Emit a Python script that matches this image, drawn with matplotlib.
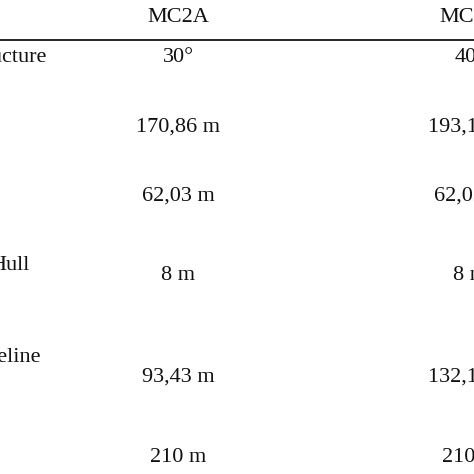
import matplotlib
matplotlib.use("Agg")
import matplotlib.pyplot as plt

columns = ["MC2A", "MC2B"]
row_labels = ["Structure", "", "", "Hull", "Baseline", ""]
col_a = ["30°", "170,86 m", "62,03 m", "8 m", "93,43 m", "210 m"]
col_b = ["40°", "193,16 m", "62,03 m", "8 m", "132,16 m", "210 m"]

W = H = 474
fig = plt.figure(figsize=(4.74, 4.74), dpi=100)
fig.patch.set_facecolor("white")
plt.rcParams['font.family'] = ['Liberation Serif', 'DejaVu Serif']

def t(x, y, s, ha="center"):
    fig.text(x / W, 1 - y / H, s, ha=ha, va="center", fontsize=16, color="#111111")

t(178, 18, columns[0])
t(470, 18, columns[1])
fig.add_artist(plt.Line2D([0, 1], [1 - 40 / H, 1 - 40 / H], color="black", lw=1.2))

rows_y = [57, 127, 196, 275, 377, 458]
label_pos = [(47, 57), None, None, (30, 265), (41, 357), None]
for lab, pos in zip(row_labels, label_pos):
    if lab and pos is not None:
        t(pos[0], pos[1], lab, ha="right")
for y, a, b in zip(rows_y, col_a, col_b):
    t(178, y, a)
    t(470, y, b)

fig.savefig("out.png", dpi=100)
